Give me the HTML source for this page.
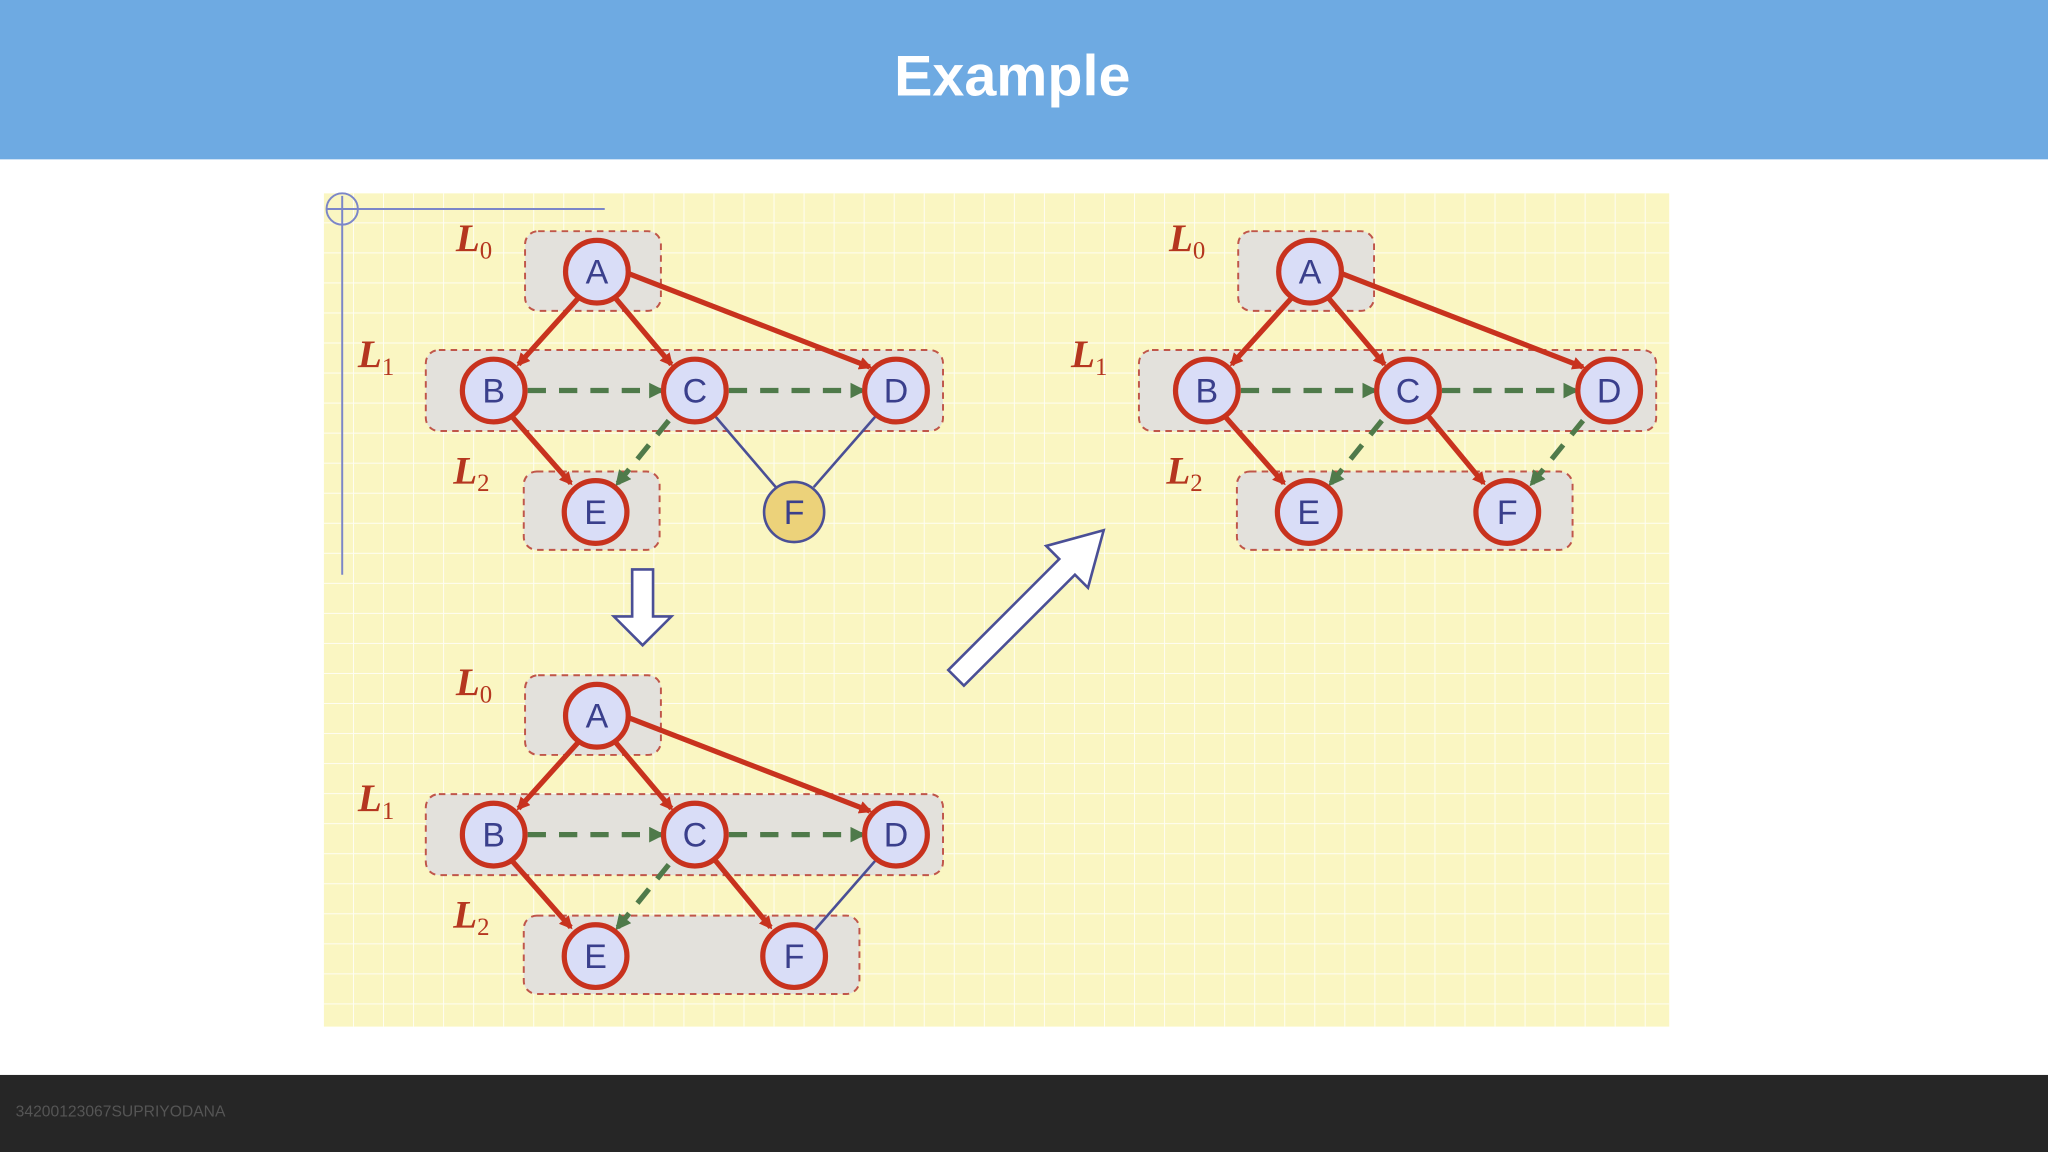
<!DOCTYPE html>
<html><head><meta charset="utf-8"><style>
html,body{margin:0;padding:0;width:2048px;height:1152px;overflow:hidden;background:#fff}
svg{display:block}
</style></head><body>
<svg width="2048" height="1152" viewBox="0 0 1568 882" preserveAspectRatio="none" xmlns="http://www.w3.org/2000/svg">
<defs>
<pattern id="g" width="23" height="23" patternUnits="userSpaceOnUse" x="248" y="148">
<path d="M23 0V23M0 23H23" stroke="#ffffff" stroke-width="1.5" fill="none" opacity="0.8"/>
</pattern>
<marker id="ra" markerWidth="10" markerHeight="10" refX="8" refY="5" orient="auto" markerUnits="userSpaceOnUse" viewBox="0 0 10 10"><path d="M0 0L10 5L0 10z" fill="#c8321e"/></marker>
<marker id="ga" markerWidth="12" markerHeight="12" refX="9" refY="6" orient="auto" markerUnits="userSpaceOnUse" viewBox="0 0 12 12"><path d="M0 0L12 6L0 12z" fill="#4f7a4a"/></marker>
<g id="n"><circle r="24" fill="#d9ddf7" stroke="#c8321e" stroke-width="4"/></g>
</defs>
<rect x="0" y="0" width="1568" height="122" fill="#6eaae2"/>
<text x="775" y="73" text-anchor="middle" font-family="Liberation Sans, sans-serif" font-weight="bold" font-size="44" fill="#fff">Example</text>
<rect x="248" y="148" width="1030" height="638" fill="#faf6c2"/>
<rect x="248" y="148" width="1030" height="638" fill="url(#g)"/>
<rect x="0" y="823" width="1568" height="59" fill="#262626"/>
<text x="12" y="855" font-family="Liberation Sans, sans-serif" font-size="12" fill="#555">34200123067SUPRIYODANA</text>
<g stroke="#7b86c8" stroke-width="1.5" fill="none"><path d="M262 150V440M250 160H463"/><circle cx="262" cy="160" r="12"/></g>

<g font-family="Liberation Sans, sans-serif" font-size="26" fill="#3a3f8c" text-anchor="middle">
<!-- top-left graph -->
<g>
<g fill="#e3e1dc" stroke="#c0564a" stroke-width="1.5" stroke-dasharray="5 4">
<rect x="402" y="177" width="104" height="61" rx="10"/>
<rect x="326" y="268" width="396" height="62" rx="10"/>
<rect x="401" y="361" width="104" height="60" rx="10"/>
</g>
<g stroke="#c8321e" stroke-width="4" fill="none" marker-end="url(#ra)">
<path d="M443 228L397 279"/><path d="M471 228L514 279"/><path d="M480 209L666 281"/><path d="M392 319L437 370"/>
</g>
<g stroke="#4f7a4a" stroke-width="4" stroke-dasharray="14 10" fill="none" marker-end="url(#ga)">
<path d="M404 299H506"/><path d="M558 299H660"/><path d="M512 322L473 370"/>
</g>
<path d="M547 318L594 373M671 318L623 373" stroke="#4a4f96" stroke-width="2" fill="none"/>
<use href="#n" x="457" y="208"/><use href="#n" x="378" y="299"/><use href="#n" x="532" y="299"/><use href="#n" x="686" y="299"/><use href="#n" x="456" y="392"/>
<circle cx="608" cy="392" r="23" fill="#ecd27a" stroke="#4a4f96" stroke-width="2"/>
<text x="457" y="217">A</text><text x="378" y="308">B</text><text x="532" y="308">C</text><text x="686" y="308">D</text><text x="456" y="401">E</text><text x="608" y="401">F</text>
</g>
<!-- bottom graph -->
<g transform="translate(0,340)">
<g fill="#e3e1dc" stroke="#c0564a" stroke-width="1.5" stroke-dasharray="5 4">
<rect x="402" y="177" width="104" height="61" rx="10"/>
<rect x="326" y="268" width="396" height="62" rx="10"/>
<rect x="401" y="361" width="257" height="60" rx="10"/>
</g>
<g stroke="#c8321e" stroke-width="4" fill="none" marker-end="url(#ra)">
<path d="M443 228L397 279"/><path d="M471 228L514 279"/><path d="M480 209L666 281"/><path d="M392 319L437 370"/><path d="M547 318L590 370"/>
</g>
<g stroke="#4f7a4a" stroke-width="4" stroke-dasharray="14 10" fill="none" marker-end="url(#ga)">
<path d="M404 299H506"/><path d="M558 299H660"/><path d="M512 322L473 370"/>
</g>
<path d="M671 318L623 373" stroke="#4a4f96" stroke-width="2" fill="none"/>
<use href="#n" x="457" y="208"/><use href="#n" x="378" y="299"/><use href="#n" x="532" y="299"/><use href="#n" x="686" y="299"/><use href="#n" x="456" y="392"/><use href="#n" x="608" y="392"/>
<text x="457" y="217">A</text><text x="378" y="308">B</text><text x="532" y="308">C</text><text x="686" y="308">D</text><text x="456" y="401">E</text><text x="608" y="401">F</text>
</g>
<!-- right graph -->
<g transform="translate(546,0)">
<g fill="#e3e1dc" stroke="#c0564a" stroke-width="1.5" stroke-dasharray="5 4">
<rect x="402" y="177" width="104" height="61" rx="10"/>
<rect x="326" y="268" width="396" height="62" rx="10"/>
<rect x="401" y="361" width="257" height="60" rx="10"/>
</g>
<g stroke="#c8321e" stroke-width="4" fill="none" marker-end="url(#ra)">
<path d="M443 228L397 279"/><path d="M471 228L514 279"/><path d="M480 209L666 281"/><path d="M392 319L437 370"/><path d="M547 318L590 370"/>
</g>
<g stroke="#4f7a4a" stroke-width="4" stroke-dasharray="14 10" fill="none" marker-end="url(#ga)">
<path d="M404 299H506"/><path d="M558 299H660"/><path d="M512 322L473 370"/><path d="M666 322L627 370"/>
</g>
<use href="#n" x="457" y="208"/><use href="#n" x="378" y="299"/><use href="#n" x="532" y="299"/><use href="#n" x="686" y="299"/><use href="#n" x="456" y="392"/><use href="#n" x="608" y="392"/>
<text x="457" y="217">A</text><text x="378" y="308">B</text><text x="532" y="308">C</text><text x="686" y="308">D</text><text x="456" y="401">E</text><text x="608" y="401">F</text>
</g>
</g>
<g font-family="Liberation Serif, serif" font-style="italic" font-weight="bold" font-size="30" fill="#b5361f">
<text x="349" y="192">L<tspan font-size="19" font-style="normal" font-weight="normal" dy="6">0</tspan></text>
<text x="274" y="281">L<tspan font-size="19" font-style="normal" font-weight="normal" dy="6">1</tspan></text>
<text x="347" y="370">L<tspan font-size="19" font-style="normal" font-weight="normal" dy="6">2</tspan></text>
<text x="349" y="532">L<tspan font-size="19" font-style="normal" font-weight="normal" dy="6">0</tspan></text>
<text x="274" y="621">L<tspan font-size="19" font-style="normal" font-weight="normal" dy="6">1</tspan></text>
<text x="347" y="710">L<tspan font-size="19" font-style="normal" font-weight="normal" dy="6">2</tspan></text>
<text x="895" y="192">L<tspan font-size="19" font-style="normal" font-weight="normal" dy="6">0</tspan></text>
<text x="820" y="281">L<tspan font-size="19" font-style="normal" font-weight="normal" dy="6">1</tspan></text>
<text x="893" y="370">L<tspan font-size="19" font-style="normal" font-weight="normal" dy="6">2</tspan></text>
</g>
<path d="M484 436H500V472H514L492 494L470 472H484Z" fill="#fff" stroke="#4a4f96" stroke-width="2"/>
<path d="M726 513L811 428L801 418L845 406L833 450L823 440L738 525Z" fill="#fff" stroke="#4a4f96" stroke-width="2"/>
</svg>
</body></html>
